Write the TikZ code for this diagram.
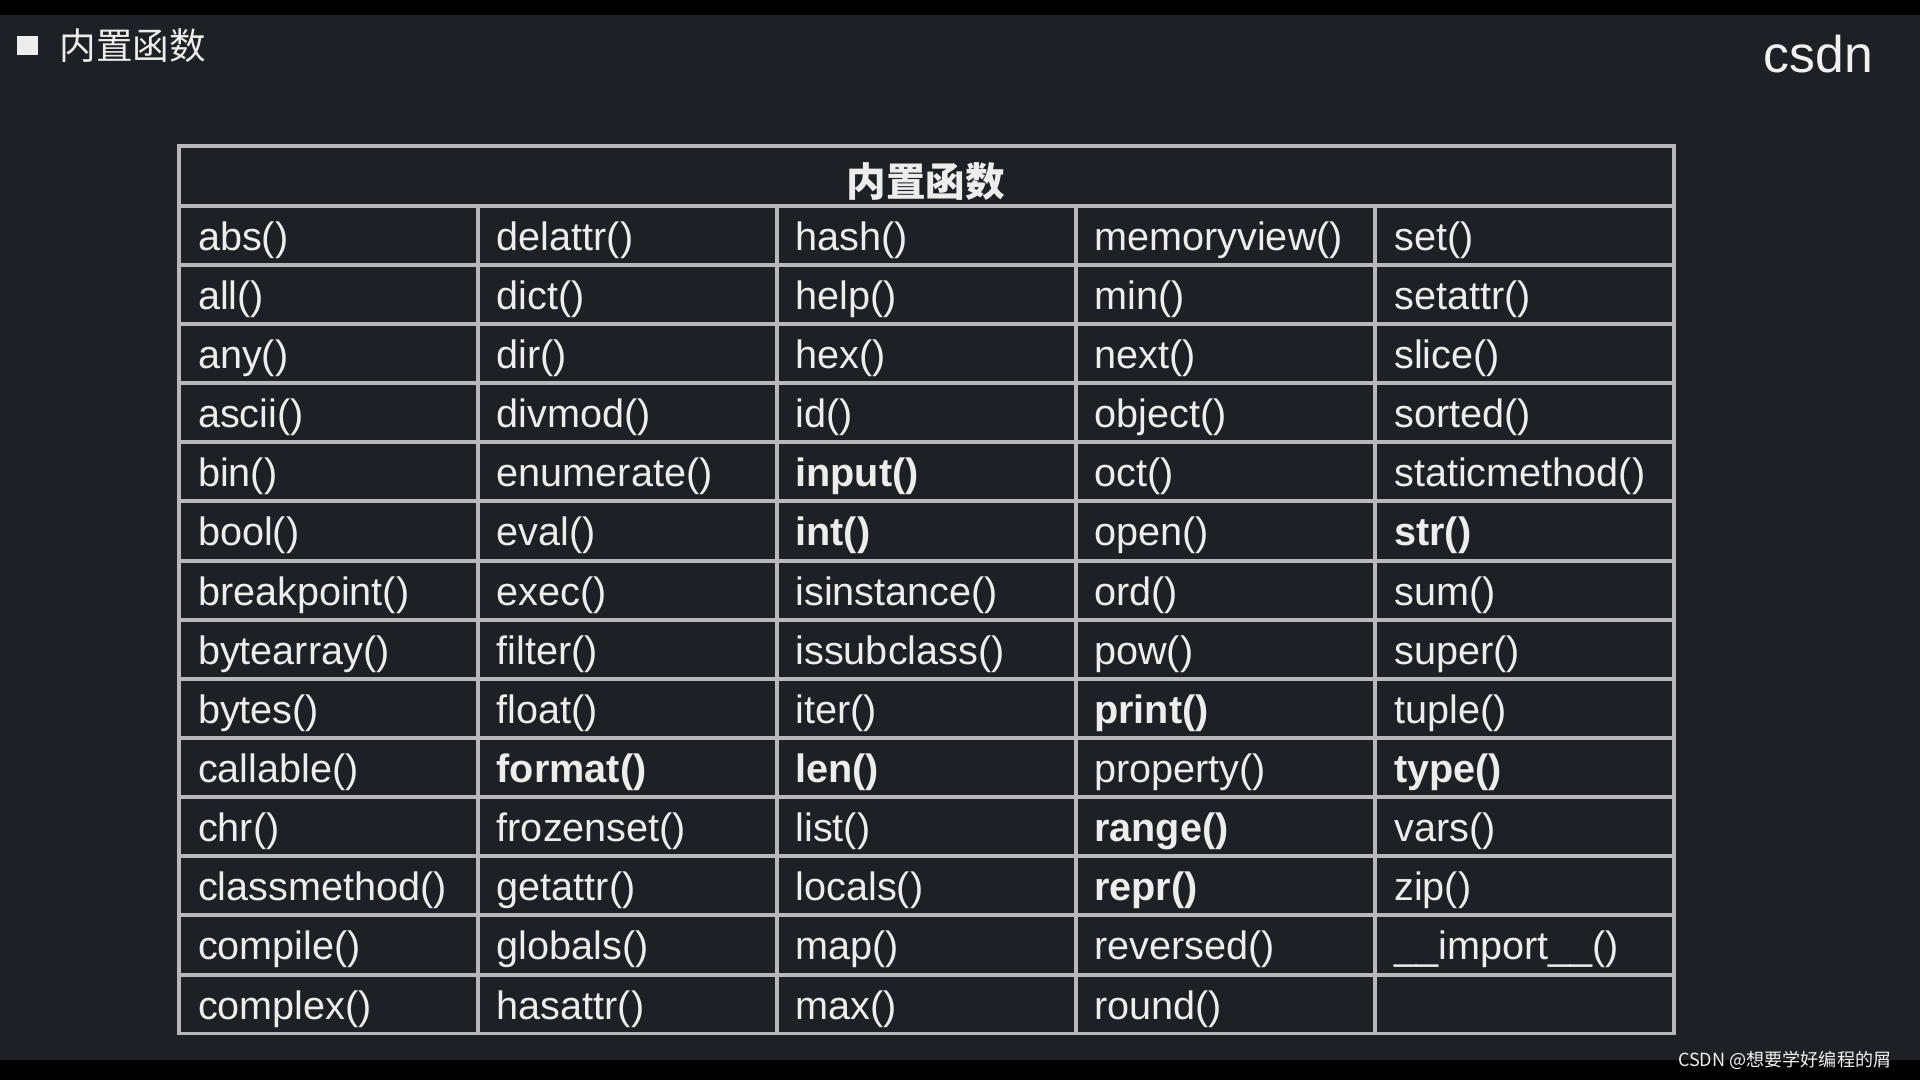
\documentclass[tikz,border=0pt]{standalone}
\usepackage{fontspec}
\setmainfont{Liberation Sans}
\newfontfamily\cjk{Noto Sans CJK SC}
\definecolor{bgdark}{HTML}{1F2025}
\definecolor{gridline}{HTML}{B8B8BC}
\definecolor{celltext}{HTML}{EDEDED}
\tikzset{
	cell/.style={anchor=west,text=celltext,font=\fontsize{9.2}{10}\selectfont,inner sep=0pt},
	gridrule/.style={draw=gridline,line width=0.9pt}
}
\begin{document}
\begin{tikzpicture}[x=0.01cm,y=-0.01cm]
	\useasboundingbox (0,0) rectangle (1568,882);
	\fill[bgdark] (0,0) rectangle (1568,882);
	\fill[black] (0,0) rectangle (1568,12);
	\fill[black] (0,866) rectangle (1568,882);
	% heading
	\fill[celltext] (14,29) rectangle (31,45);
	\node[cell,font=\cjk\fontsize{8.5}{10}\selectfont] (heading) at (48,37) {内置函数};
	\node[anchor=east,text=celltext!75,font=\fontsize{12}{14}\selectfont] (logo) at (1542,44) {csdn};
	\node[anchor=east,text=celltext!85,font=\cjk\fontsize{4.2}{5}\selectfont] (mark) at (1557,866) {CSDN @想要学好编程的屑};
	% table
	\draw[gridrule] (146,119) rectangle (1367,844);
	\node[text=celltext,font=\cjk\fontsize{9.2}{10}\selectfont\bfseries] (title) at (756,148) {内置函数};
	\foreach \r in {0,...,13}
		\draw[gridrule] (146,{168+48.3*\r}) -- (1367,{168+48.3*\r});
	\foreach \c in {1,...,4}
		\draw[gridrule] ({146+244.2*\c},168) -- ({146+244.2*\c},844);
	\foreach \a/\b/\c/\d/\e [count=\r from 0] in {
		abs()/delattr()/hash()/memoryview()/set(),
		all()/dict()/help()/min()/setattr(),
		any()/dir()/hex()/next()/slice(),
		ascii()/divmod()/id()/object()/sorted(),
		bin()/enumerate()/\textbf{input()}/oct()/staticmethod(),
		bool()/eval()/\textbf{int()}/open()/\textbf{str()},
		breakpoint()/exec()/isinstance()/ord()/sum(),
		bytearray()/filter()/issubclass()/pow()/super(),
		bytes()/float()/iter()/\textbf{print()}/tuple(),
		callable()/\textbf{format()}/\textbf{len()}/property()/\textbf{type()},
		chr()/frozenset()/list()/\textbf{range()}/vars(),
		classmethod()/getattr()/locals()/\textbf{repr()}/zip(),
		compile()/globals()/map()/reversed()/\_\_import\_\_(),
		complex()/hasattr()/max()/round()/{}}
	{
		\node[cell] (c\r-1) at (161,{196+48.3*\r}) {\a};
		\node[cell] (c\r-2) at (405,{196+48.3*\r}) {\b};
		\node[cell] (c\r-3) at (649,{196+48.3*\r}) {\c};
		\node[cell] (c\r-4) at (893,{196+48.3*\r}) {\d};
		\node[cell] (c\r-5) at (1138,{196+48.3*\r}) {\e};
	}
\end{tikzpicture}
\end{document}
